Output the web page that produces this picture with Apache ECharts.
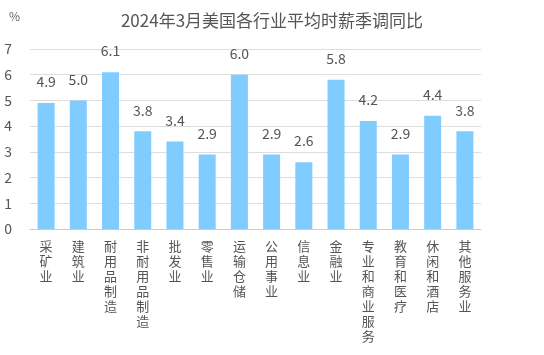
<!DOCTYPE html>
<html><head><meta charset="utf-8">
<script src="https://cdn.jsdelivr.net/npm/echarts@6/dist/echarts.min.js"></script>
<style>html,body{margin:0;padding:0;background:#fff}#c{width:544px;height:355px}</style>
</head><body><div id="c"></div>
<script>
const categories = ['采矿业','建筑业','耐用品制造','非耐用品制造','批发业','零售业','运输仓储','公用事业','信息业','金融业','专业和商业服务','教育和医疗','休闲和酒店','其他服务业'];
const values = [4.9,5.0,6.1,3.8,3.4,2.9,6.0,2.9,2.6,5.8,4.2,2.9,4.4,3.8];
const title = '2024年3月美国各行业平均时薪季调同比';
const unit = '%';
const font = '"Noto Sans CJK SC","Noto Sans",sans-serif';
const chart = echarts.init(document.getElementById('c'));
chart.setOption({
  animation:false,
  title:{text:title,left:'center',top:7,textStyle:{fontFamily:font,fontSize:17,fontWeight:'normal',color:'#555'}},
  graphic:[{type:'text',left:9,top:10,style:{text:unit,fontFamily:font,fontSize:12,fill:'#666'}}],
  grid:{left:30,right:63,top:49,bottom:126},
  xAxis:{type:'category',data:categories,
    axisLine:{lineStyle:{color:'#ccc'}},axisTick:{show:false},
    axisLabel:{interval:0,margin:10,fontFamily:font,fontSize:13,color:'#555',lineHeight:15,
      verticalAlign:'top',formatter:v=>v.split('').join('\n')}},
  yAxis:{type:'value',min:0,max:7,interval:1,
    axisLabel:{fontFamily:font,fontSize:14,color:'#555',margin:18},
    splitLine:{lineStyle:{color:'#ddd'}},axisLine:{show:false},axisTick:{show:false}},
  series:[{type:'bar',data:values,barWidth:17,itemStyle:{color:'#80CCFF'},
    label:{show:true,position:'top',distance:14,fontFamily:font,fontSize:14,color:'#555',formatter:p=>p.value.toFixed(1)}}]
});
</script></body></html>
